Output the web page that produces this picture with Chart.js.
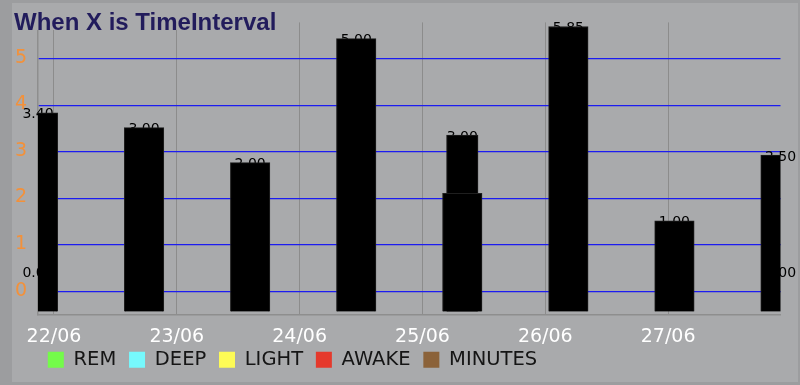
<!DOCTYPE html>
<html><head><meta charset="utf-8">
<script src="https://cdn.jsdelivr.net/npm/chart.js@4.4.1/dist/chart.umd.min.js"></script>
<style>
html,body{margin:0;padding:0;width:800px;height:385px;overflow:hidden;background:#9c9d9f;}
#panel{position:absolute;left:12px;top:3px;width:786px;height:379px;background:#a9aaac;}
#c{position:absolute;left:0;top:0;}
</style></head><body>
<div id="panel"></div>
<canvas id="c" width="800" height="385"></canvas>
<script>
const chartTitle = 'When X is TimeInterval';
const barSlots = ['1','2','3','4','5','6','7','8'];
const dateLabels = ['22/06','23/06','24/06','25/06','26/06','27/06'];
const dateTickValues = [0,1,2,3,4,5];
const yTickValues = [0,1,2,3,4,5];
const seriesNames = ['REM','DEEP','LIGHT','AWAKE','MINUTES'];
const seriesColors = ['#74fb4a','#76f9fd','#fdfb56','#e5392c','#8b6239'];
const barBase = -0.425;
const mainTops = [3.84,3.52,2.77,5.43,2.11,5.69,1.52,2.93];
const mainLabels = ['3.40','3.00','2.00','5.00','','5.85','1.00','2.50'];
const upperTops = [null,null,null,null,3.36,null,null,null];
const upperLabels = ['','','','','3.00','','',''];
const zeroTops = [0.43,0.43,0.43,0.43,0.43,0.43,0.43,0.43];
const zeroLabels = ['0.00','0.00','0.00','0.00','0.00','0.00','0.00','0.00'];

const FAMILY = "'DejaVu Sans', sans-serif";
const TITLE_FAMILY = "'Liberation Sans', Arial, sans-serif";
const PANEL = '#a9aaac';
const toRange = arr => arr.map(v => v === null ? null : [barBase, v]);

const barStyle = {
  backgroundColor: '#000000',
  borderColor: '#1f1f1f',
  borderWidth: 1,
  grouped: false,
  clip: 0,
  xAxisID: 'x',
  yAxisID: 'y'
};

const valueLabelPlugin = {
  id: 'valueLabels',
  beforeDatasetsDraw(chart) {
    const ctx = chart.ctx;
    ctx.save();
    ctx.font = '14px ' + FAMILY;
    ctx.fillStyle = '#000000';
    ctx.textAlign = 'center';
    ctx.textBaseline = 'middle';
    chart.data.datasets.forEach((ds, di) => {
      const meta = chart.getDatasetMeta(di);
      meta.data.forEach((el, i) => {
        const t = ds.valueLabels ? ds.valueLabels[i] : '';
        if (!t || ds.data[i] === null) return;
        ctx.fillText(t, el.x, el.y + 2);
      });
    });
    ctx.restore();
  }
};

const placementPlugin = {
  id: 'placement',
  afterLayout(chart) {
    const lg = chart.legend;
    if (lg) { lg.left += 35; lg.right += 35; lg.top -= 5.5; lg.bottom -= 5.5; }
    const xd = chart.scales.xd;
    if (xd) { xd.bottom += 10; }
  }
};

const titlePlugin = {
  id: 'titleBox',
  afterDraw(chart) {
    const ctx = chart.ctx;
    ctx.save();
    ctx.fillStyle = PANEL;
    ctx.fillRect(12, 3, 276, 27);
    ctx.font = 'bold 24px ' + TITLE_FAMILY;
    ctx.fillStyle = '#221c5c';
    ctx.textAlign = 'left';
    ctx.textBaseline = 'alphabetic';
    ctx.fillText(chartTitle, 14, 30);
    ctx.restore();
  }
};

new Chart(document.getElementById('c'), {
  type: 'bar',
  data: {
    labels: barSlots,
    datasets: [
      Object.assign({}, barStyle, { label: 'main', data: toRange(mainTops), valueLabels: mainLabels, barThickness: 39.5, order: 0 }),
      Object.assign({}, barStyle, { label: 'upper', data: toRange(upperTops), valueLabels: upperLabels, barThickness: 31.5, order: 1 }),
      Object.assign({}, barStyle, { label: 'zero', data: toRange(zeroTops), valueLabels: zeroLabels, barThickness: 39.5,
        backgroundColor: 'rgba(0,0,0,0)', borderWidth: 0, order: 2 })
    ]
  },
  options: {
    responsive: false,
    animation: false,
    devicePixelRatio: 1,
    layout: { padding: { left: 0, right: 19.5, top: 22, bottom: 0 } },
    scales: {
      x: { type: 'category', labels: barSlots, offset: false, display: false, grid: { display: false, offset: false } },
      xd: {
        type: 'linear', position: 'bottom', min: -0.13, max: 5.915, offset: false,
        afterBuildTicks: s => { s.ticks = dateTickValues.map(v => ({ value: v })); },
        afterFit: s => { s.height = 27.7; },
        grid: { color: '#8c8c8c', lineWidth: 1, drawTicks: false, offset: false },
        border: { color: '#8e8e8e', width: 1.5 },
        ticks: {
          color: '#ffffff', font: { family: FAMILY, size: 19 }, padding: 10.7,
          autoSkip: false, maxRotation: 0,
          callback: v => dateLabels[dateTickValues.indexOf(v)]
        }
      },
      y: {
        type: 'linear', position: 'left', min: -0.5, max: 5.778, beginAtZero: false,
        afterBuildTicks: s => { s.ticks = yTickValues.map(v => ({ value: v })); },
        afterFit: s => { s.width = 38; },
        grid: { color: '#1c1cf0', lineWidth: 1.3, drawTicks: false },
        border: { color: '#8e8e8e', width: 1.5 },
        ticks: {
          color: '#f3913a', font: { family: FAMILY, size: 19 }, padding: 11, labelOffset: -1,
          callback: v => String(v)
        }
      }
    },
    plugins: {
      tooltip: { enabled: false },
      title: { display: false },
      legend: {
        display: true, position: 'bottom', align: 'start',
        labels: {
          boxWidth: 16, boxHeight: 16, padding: 12.8, color: '#151515',
          font: { family: FAMILY, size: 19.5 },
          generateLabels: () => seriesNames.map((n, i) => ({
            text: n, fillStyle: seriesColors[i], strokeStyle: seriesColors[i],
            lineWidth: 0, hidden: false, datasetIndex: i, fontColor: '#151515'
          }))
        }
      }
    }
  },
  plugins: [valueLabelPlugin, placementPlugin, titlePlugin]
});
</script>
</body></html>
